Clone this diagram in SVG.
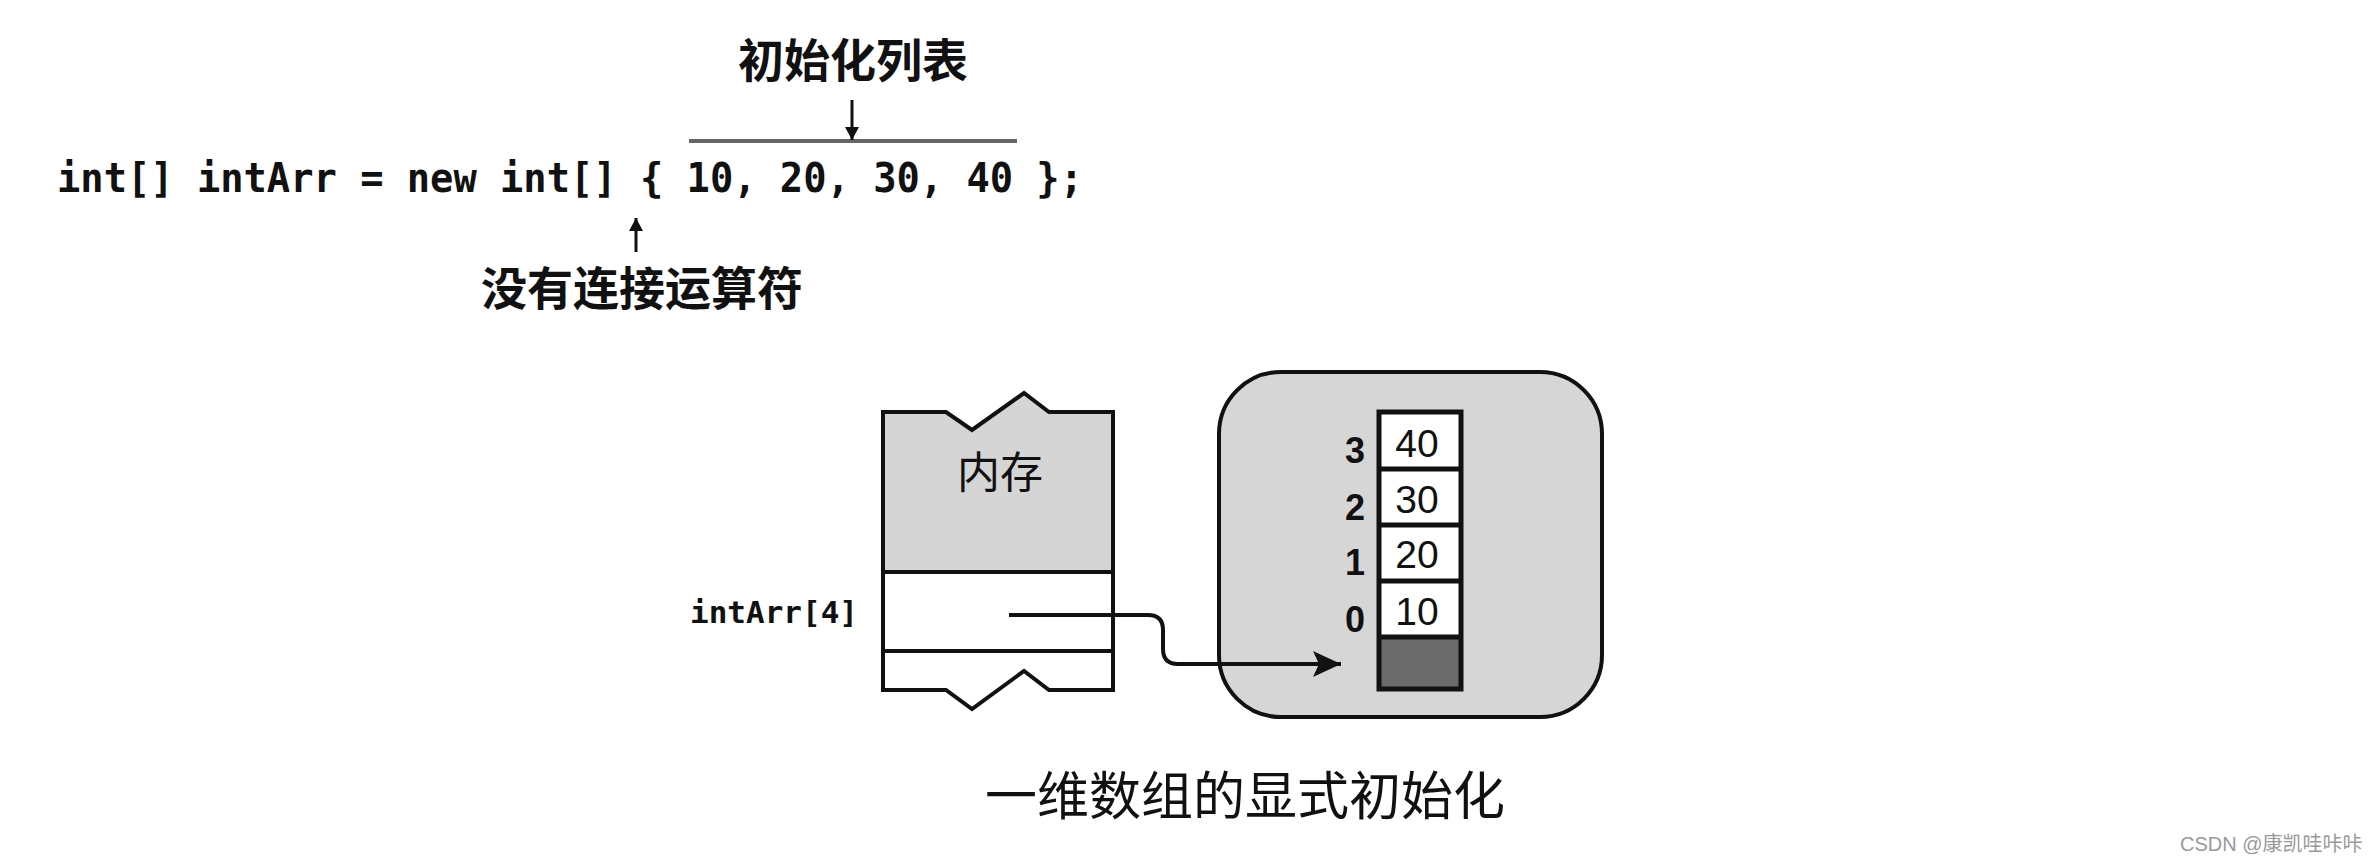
<svg xmlns="http://www.w3.org/2000/svg" width="2374" height="866" viewBox="0 0 2374 866">
<defs>
<style>
.code{font-family:"DejaVu Sans Mono","Liberation Mono",monospace;font-weight:bold;fill:#111}
.cjkb{font-family:"Noto Sans CJK SC",sans-serif;font-weight:bold;fill:#111}
.cjk{font-family:"Noto Sans CJK SC",sans-serif;font-weight:normal;fill:#111}
.idx{font-family:"Liberation Sans",Arial,sans-serif;font-weight:bold;font-size:36px;fill:#111;text-anchor:middle}
.val{font-family:"Liberation Sans",Arial,sans-serif;font-size:39px;fill:#111;text-anchor:middle}
.ln{stroke:#111;stroke-width:4;fill:none}
</style>
<marker id="bigArrow" markerUnits="userSpaceOnUse" markerWidth="30" markerHeight="30" viewBox="0 0 30 30" refX="28" refY="15" orient="auto">
<path d="M0,2 L28,15 L0,28 L6,15 Z" fill="#111"/>
</marker>
<marker id="smallArrow" markerUnits="userSpaceOnUse" markerWidth="14" markerHeight="16" viewBox="0 0 14 16" refX="13" refY="8" orient="auto">
<path d="M0,1 L13,8 L0,15 Z" fill="#111"/>
</marker>
</defs>
<rect width="2374" height="866" fill="#ffffff"/>

<g id="label-init-list">
<text class="cjkb" x="853" y="77" font-size="46" text-anchor="middle">初始化列表</text>
</g>

<g id="code">
<text class="code" x="57" y="192" font-size="40" textLength="1026" lengthAdjust="spacingAndGlyphs">int[] intArr = new int[] { 10, 20, 30, 40 };</text>
<line x1="689" y1="141" x2="1017" y2="141" stroke="#666" stroke-width="4"/>
</g>

<g id="label-no-operator">
<text class="cjkb" x="642" y="305" font-size="46" text-anchor="middle">没有连接运算符</text>
</g>

<g id="memory">
<path d="M883,572 L883,412 L946,412 L972,430 L1024,393 L1049,412 L1113,412 L1113,572 Z" fill="#d5d5d5"/>
<path d="M883,572 L1113,572 L1113,690 L1049,690 L1024,671 L972,709 L946,690 L883,690 Z" fill="#ffffff"/>
<path class="ln" d="M883,412 L946,412 L972,430 L1024,393 L1049,412 L1113,412 L1113,690 L1049,690 L1024,671 L972,709 L946,690 L883,690 Z"/>
<line class="ln" x1="883" y1="572" x2="1113" y2="572"/>
<line class="ln" x1="883" y1="651" x2="1113" y2="651"/>
<text class="cjk" x="1000" y="488" font-size="43" text-anchor="middle">内存</text>
</g>

<g id="label-intArr4">
<text class="code" x="690" y="623" font-size="31">intArr[4]</text>
</g>

<g id="array-object">
<rect x="1219" y="372" width="383" height="345" rx="62" ry="62" fill="#d6d6d6" stroke="#111" stroke-width="4"/>
<rect x="1379" y="412" width="82" height="277" fill="#ffffff"/>
<rect x="1379" y="637" width="82" height="52" fill="#6b6b6b"/>
<g stroke="#111" stroke-width="5" fill="none">
<rect x="1379" y="412" width="82" height="277"/>
<line x1="1379" y1="469" x2="1461" y2="469"/>
<line x1="1379" y1="525" x2="1461" y2="525"/>
<line x1="1379" y1="581" x2="1461" y2="581"/>
<line x1="1379" y1="637" x2="1461" y2="637"/>
</g>
<text class="val" x="1417" y="457">40</text>
<text class="val" x="1417" y="513">30</text>
<text class="val" x="1417" y="568">20</text>
<text class="val" x="1417" y="625">10</text>
<text class="idx" x="1355" y="463">3</text>
<text class="idx" x="1355" y="520">2</text>
<text class="idx" x="1355" y="575">1</text>
<text class="idx" x="1355" y="632">0</text>
</g>

<g id="connectors">
<line x1="852" y1="100" x2="852" y2="140" stroke="#111" stroke-width="3" marker-end="url(#smallArrow)"/>
<line x1="636" y1="252" x2="636" y2="218" stroke="#111" stroke-width="3" marker-end="url(#smallArrow)"/>
<path d="M1009,615 H1148 Q1163,615 1163,630 V649 Q1163,664 1178,664 H1341" fill="none" stroke="#111" stroke-width="4" marker-end="url(#bigArrow)"/>
</g>

<g id="caption">
<text class="cjk" x="1245" y="815" font-size="52" text-anchor="middle">一维数组的显式初始化</text>
</g>

<g id="watermark">
<text x="2180" y="851" font-family="'Liberation Sans','Noto Sans CJK SC',sans-serif" font-size="20" fill="#999">CSDN @康凯哇咔咔</text>
</g>
</svg>
